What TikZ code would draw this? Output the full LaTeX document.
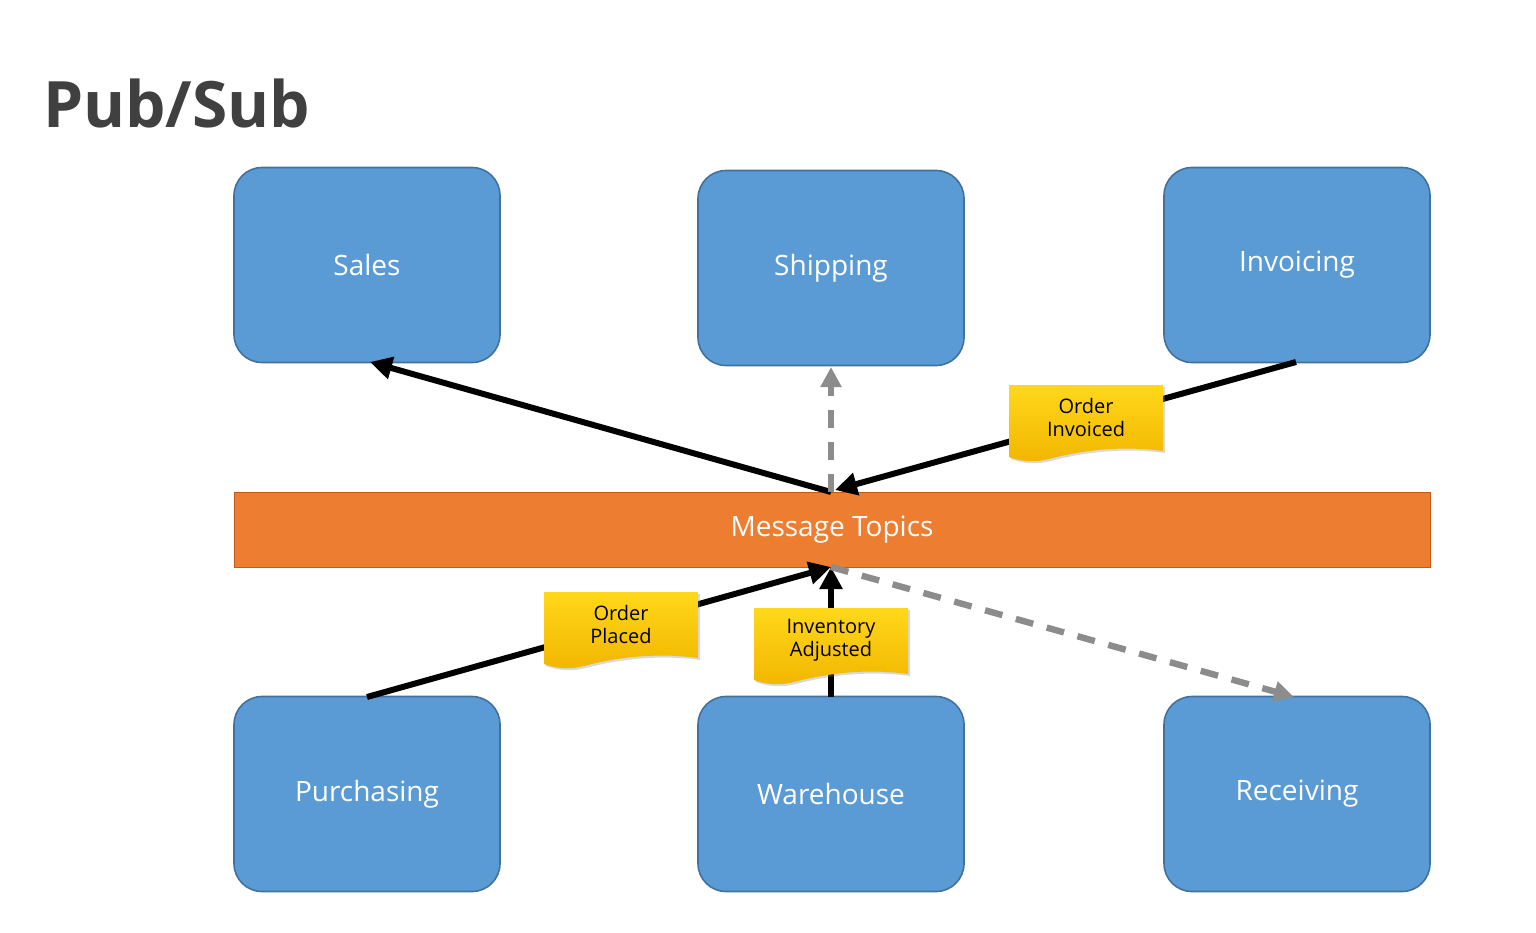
\documentclass[tikz,border=0pt]{standalone}
\usepackage{fontspec}
\setmainfont{Open Sans}
\usetikzlibrary{arrows.meta,shadows}
\definecolor{boxblue}{HTML}{5B9BD5}
\definecolor{boxedge}{HTML}{41719C}
\definecolor{barorange}{HTML}{ED7D31}
\definecolor{baredge}{HTML}{C55A11}
\definecolor{notetop}{HTML}{FFD81A}
\definecolor{notebot}{HTML}{F2B600}
\begin{document}
\begin{tikzpicture}[x=0.5pt,y=-0.5pt,
 box/.style={draw=boxedge,line width=0.8pt,fill=boxblue,rounded corners=14pt,minimum width=133pt,minimum height=97.5pt,text=white,font=\fontsize{14}{16}\selectfont},
 link/.style={line width=3pt,-{Triangle[length=11pt,width=11pt]}},
 dashlink/.style={line width=3.2pt,dash pattern=on 9pt off 7pt,-{Triangle[length=10pt,width=10pt]},color=gray!90},
 notetext/.style={font=\fontsize{10}{11.5}\selectfont,align=center}]
\useasboundingbox (0,0) rectangle (1536,932);
\node[font=\fontsize{32}{36}\selectfont\bfseries,text=black!75,anchor=west] (title) at (36,103) {Pub/Sub};
\node[box] (sales) at (367,265) {Sales};
\node[box] (ship) at (831,268) {Shipping};
\node[box] (inv) at (1297,265) {Invoicing};
\node[box] (purch) at (367,794) {Purchasing};
\node[box] (ware) at (831,794) {Warehouse};
\node[box] (recv) at (1297,794) {Receiving};
\node[draw=baredge,fill=barorange,minimum width=598pt,minimum height=37.5pt,text=white,font=\fontsize{14}{16}\selectfont] (bar) at (832,530) {Message Topics};
\coordinate (bt) at (831,492);
\coordinate (bb) at (831,567);
\coordinate (salesb) at (370,362);
\coordinate (shipb) at (831,367);
\coordinate (invb) at (1296,362);
\coordinate (purcht) at (367,697);
\coordinate (waret) at (831,697);
\coordinate (recvt) at (1294,697);
\draw[link] (bt) -- (salesb);
\draw[dashlink] (bt) -- (shipb);
\draw[link] (invb) -- (835,490);
\draw[link] (purcht) -- (bb);
\draw[link] (waret) -- (bb);
\draw[dashlink] (bb) -- (recvt);
\newcommand{\sticky}[4]{%
 \shade[top color=notetop,bottom color=notebot,drop shadow={opacity=0.3,shadow xshift=1pt,shadow yshift=-1pt}]
 (#1,#2) -- (#1+154,#2) -- (#1+154,#2+66) .. controls (#1+110,#2+60) and (#1+70,#2+66) .. (#1+40,#2+74) .. controls (#1+25,#2+78) and (#1+10,#2+76) .. (#1,#2+72) -- cycle;
 \node[notetext] (#4) at (#1+77,#2+32) {#3};}
\sticky{1009}{385}{Order\\Invoiced}{n1}
\sticky{544}{592}{Order\\Placed}{n2}
\sticky{754}{608}{Inventory\\Adjusted}{n3}
\end{tikzpicture}
\end{document}
